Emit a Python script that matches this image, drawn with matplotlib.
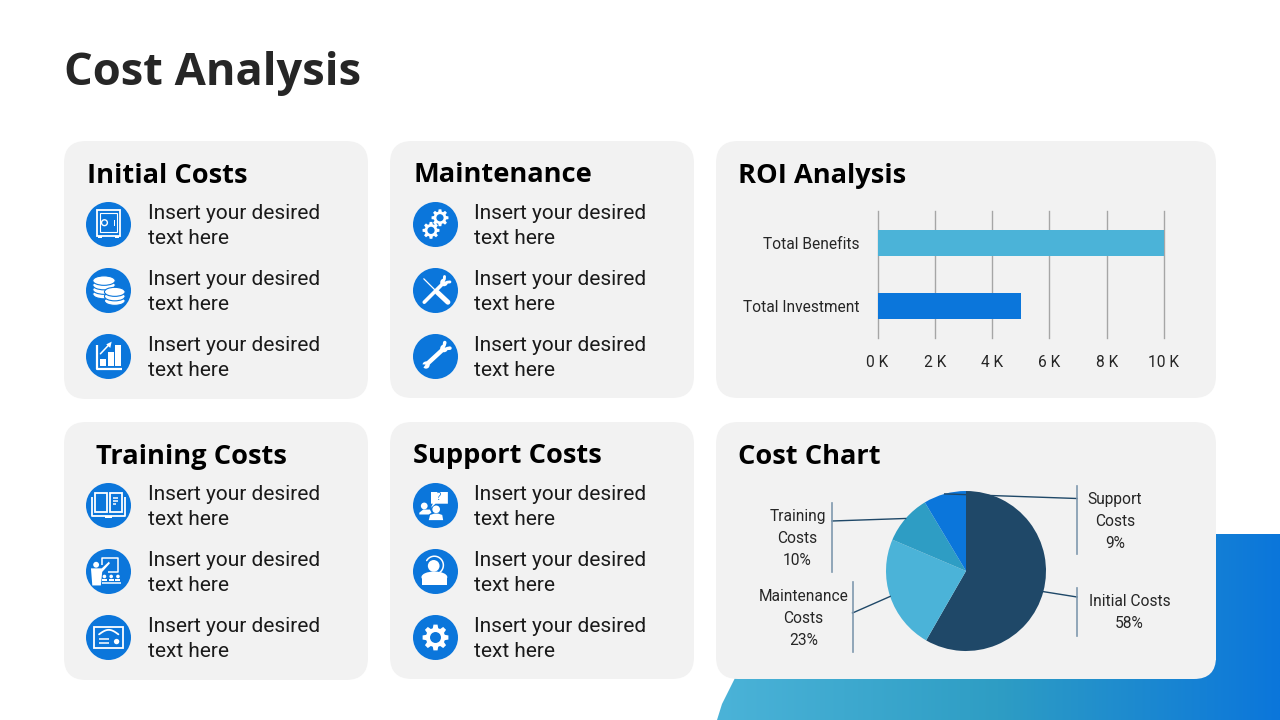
import numpy as np
import matplotlib
matplotlib.use("Agg")
import matplotlib.pyplot as plt
from matplotlib.patches import FancyBboxPatch, Circle, Ellipse, Polygon, Rectangle

plt.rcParams['font.family'] = ['Open Sans', 'DejaVu Sans']
BODY_FONT = ['Roboto', 'DejaVu Sans']
HEAD_FONT = ['Open Sans', 'DejaVu Sans']

BLUE = '#0B76DB'
LIGHT = '#4BB3D8'
TEAL = '#2E9DC4'
NAVY = '#1F4868'
CARD = '#F2F2F2'

# data
roi_labels = ['Total Benefits', 'Total Investment']
roi_values = [10, 5]
roi_colors = [LIGHT, BLUE]
roi_ticks = [0, 2, 4, 6, 8, 10]

cost_labels = ['Initial Costs', 'Maintenance\nCosts', 'Training\nCosts', 'Support\nCosts']
cost_values = [58.3, 23.1, 10.0, 8.6]
cost_colors = [NAVY, LIGHT, TEAL, BLUE]

body_text = 'Insert your desired\ntext here'

fig = plt.figure(figsize=(12.8, 7.2), dpi=100, facecolor='white')


def px_axes(left, top, w, h, zorder=1):
    ax = fig.add_axes([left / 1280, 1 - (top + h) / 720, w / 1280, h / 720], zorder=zorder)
    return ax


bg = px_axes(0, 0, 1280, 720)
bg.set_xlim(0, 1280)
bg.set_ylim(720, 0)
bg.axis('off')

# gradient shape at the bottom right
grad = np.linspace(0, 1, 256)[None, :, None]
c0, c1, c2 = [np.array(matplotlib.colors.to_rgb(c)) for c in (LIGHT, TEAL, BLUE)]
ramp = np.where(grad < 0.5, c0 + (c1 - c0) * grad * 2, c1 + (c2 - c1) * (grad - 0.5) * 2)
im = bg.imshow(ramp, extent=(717, 1280, 720, 534), aspect='auto', zorder=1)
verts = [(717, 720), (722, 704), (744, 660), (1216, 660), (1216, 534), (1280, 534), (1280, 720), (717, 720)]
clip = Polygon(verts, closed=True, transform=bg.transData, fc='none', ec='none')
bg.add_patch(clip)
im.set_clip_path(clip)
bg.set_xlim(0, 1280)
bg.set_ylim(720, 0)

# cards
for x0, y0, x1, y1 in [(64, 141, 368, 399), (390, 141, 694, 398), (716, 141, 1216, 398),
                       (64, 422, 368, 680), (390, 422, 694, 679), (716, 422, 1216, 679)]:
    bg.add_patch(FancyBboxPatch((x0, y0), x1 - x0, y1 - y0, boxstyle='round,pad=0,rounding_size=22',
                                fc=CARD, ec='none', zorder=2))

bg.text(64, 73, 'Cost Analysis', fontsize=32.6, fontweight='bold', family=HEAD_FONT, color='#262626',
        va='center', zorder=5)


# small drawing helpers, unit coordinates around the icon centre
class Icon:
    def __init__(self, cx, cy, r=22.5):
        self.cx, self.cy, self.r = cx, cy, r
        bg.add_patch(Circle((cx, cy), r, fc=BLUE, ec='none', zorder=3))

    def xy(self, x, y):
        return self.cx + x * self.r, self.cy + y * self.r

    def rect(self, x, y, w, h, fc='white', ec='none', lw=0, z=4):
        bg.add_patch(Rectangle(self.xy(x, y), w * self.r, h * self.r, fc=fc, ec=ec, lw=lw, zorder=z))

    def circ(self, x, y, r, fc='white', ec='none', lw=0, z=4):
        bg.add_patch(Circle(self.xy(x, y), r * self.r, fc=fc, ec=ec, lw=lw, zorder=z))

    def ell(self, x, y, w, h, fc='white', ec='none', lw=0, z=4):
        bg.add_patch(Ellipse(self.xy(x, y), w * self.r, h * self.r, fc=fc, ec=ec, lw=lw, zorder=z))

    def line(self, pts, lw=1.2, c='white', z=4, cap='round'):
        p = [self.xy(*q) for q in pts]
        bg.plot([q[0] for q in p], [q[1] for q in p], color=c, lw=lw, zorder=z, solid_capstyle=cap)

    def poly(self, pts, fc='white', z=4):
        bg.add_patch(Polygon([self.xy(*q) for q in pts], closed=True, fc=fc, ec='none', zorder=z))

    def gear(self, x, y, r, teeth=8, hole=0.42, z=4):
        pts = []
        step = 2 * np.pi / teeth
        for i in range(teeth):
            a = i * step
            pts += [(x + r * .74 * np.cos(a - step * .36), y + r * .74 * np.sin(a - step * .36)),
                    (x + r * np.cos(a - step * .2), y + r * np.sin(a - step * .2)),
                    (x + r * np.cos(a + step * .2), y + r * np.sin(a + step * .2)),
                    (x + r * .74 * np.cos(a + step * .36), y + r * .74 * np.sin(a + step * .36))]
        self.poly(pts, z=z)
        self.circ(x, y, r * hole, fc=BLUE, z=z + 1)


def icon_safe(ic):
    ic.rect(-.52, -.66, 1.04, 1.16, fc='none', ec='white', lw=1.3)
    ic.rect(-.38, -.5, .76, .84, fc='none', ec='white', lw=.8)
    ic.circ(-.18, -.08, .13, fc='none', ec='white', lw=1)
    ic.rect(.24, -.22, .07, .28)
    ic.rect(-.45, .5, .18, .08)
    ic.rect(.27, .5, .18, .08)


def icon_coins(ic):
    for y in [.16, -.04, -.24, -.44]:
        ic.ell(-.2, y, 1.0, .42, ec=BLUE, lw=.8)
    for y in [.46, .26, .06]:
        ic.ell(.28, y, .92, .4, ec=BLUE, lw=.8)


def icon_chart(ic):
    ic.line([(-.52, -.5), (-.52, .55), (.62, .55)], lw=1.6, cap='butt')
    ic.rect(-.38, .12, .26, .32)
    ic.rect(-.03, -.18, .26, .62)
    ic.rect(.3, -.52, .26, .96)
    ic.line([(-.36, -.12), (.02, -.52)], lw=1.1)
    ic.poly([(.14, -.66), (.08, -.38), (-.1, -.54)])


def icon_spanner(ic, a, b, w=2.6):
    # handle plus an open jaw at the b end
    ic.line([a, b], lw=w)
    dx, dy = b[0] - a[0], b[1] - a[1]
    n = np.hypot(dx, dy)
    ux, uy = dx / n, dy / n
    px, py = -uy, ux
    ic.circ(b[0], b[1], .17)
    for s in [1, -1]:
        ic.line([b, (b[0] + ux * .2 + s * px * .17, b[1] + uy * .2 + s * py * .17)], lw=w * .8)
    ic.poly([(b[0] + ux * .04, b[1] + uy * .04),
             (b[0] + ux * .3 + px * .1, b[1] + uy * .3 + py * .1),
             (b[0] + ux * .3 - px * .1, b[1] + uy * .3 - py * .1)], fc=BLUE, z=5)


def icon_gears(ic):
    ic.gear(.2, -.3, .38, hole=.42)
    ic.gear(-.2, .26, .38, hole=.42)


def icon_tools(ic):
    ic.line([(-.52, -.52), (.0, .0)], lw=.9)
    ic.line([(.08, .08), (.55, .52)], lw=3.6)
    icon_spanner(ic, (-.5, .52), (.38, -.36))


def icon_wrench(ic):
    icon_spanner(ic, (-.36, .32), (.38, -.36), w=3.2)
    ic.circ(-.42, .38, .16)
    ic.poly([(-.44, .36), (-.7, .34), (-.62, .6)], fc=BLUE, z=5)


def icon_book(ic):
    ic.rect(-.58, -.55, .52, .82, fc='none', ec='white', lw=1.3)
    ic.rect(.06, -.55, .52, .82, fc='none', ec='white', lw=1.3)
    ic.line([(-.74, -.38), (-.74, .46), (.74, .46), (.74, -.38)], lw=1.3, cap='butt')
    ic.line([(.2, -.33), (.42, -.33)], lw=1.1, cap='butt')
    ic.line([(.2, -.2), (.42, -.2)], lw=1.1, cap='butt')
    ic.line([(.2, -.07), (.34, -.07)], lw=1.1, cap='butt')
    ic.rect(-.15, .46, .3, .08)


def icon_teacher(ic):
    ic.line([(-.3, -.3), (-.3, -.6), (.42, -.6), (.42, .02), (-.02, .02)], lw=1.1, cap='butt')
    ic.circ(-.55, -.3, .13)
    ic.poly([(-.78, -.14), (-.3, -.14), (.02, -.44), (.06, -.36), (-.28, .02), (-.34, .62), (-.72, .62)])
    for x in [-.18, .12, .42]:
        ic.circ(x, .22, .08)
        ic.rect(x - .11, .32, .22, .12)
    ic.line([(-.3, .52), (.56, .52)], lw=1.1, cap='butt')


def icon_certificate(ic):
    ic.rect(-.66, -.46, 1.32, .94, fc='none', ec='white', lw=1.3)
    t = np.linspace(0, 1, 20)
    ic.line(list(zip(-.42 + .86 * t, -.14 - .2 * np.sin(np.pi * t))), lw=1.3)
    ic.line([(-.44, .08), (.02, .08)], lw=1.1, cap='butt')
    ic.line([(-.44, .26), (.02, .26)], lw=1.1, cap='butt')
    ic.circ(.36, .18, .12)


def icon_helpdesk(ic):
    ic.poly([(-.2, -.6), (.55, -.6), (.55, -.08), (0, -.08), (-.2, .1), (-.12, -.08), (-.2, -.08)])
    bg.text(*ic.xy(.17, -.34), '?', color=BLUE, fontsize=7, ha='center', va='center', zorder=5)
    ic.circ(-.5, .02, .15)
    ic.poly([(-.72, .32), (-.55, .18), (-.25, .18), (-.18, .32), (-.3, .4), (-.72, .4)])
    ic.circ(.03, .17, .17)
    ic.poly([(-.3, .65), (-.24, .42), (-.05, .36), (.12, .36), (.3, .42), (.34, .65)])


def icon_agent(ic):
    ic.circ(-.08, -.25, .26)
    t = np.linspace(-2.6, 1.0, 24)
    ic.line(list(zip(-.05 + .4 * np.cos(t), -.28 + .4 * np.sin(t))), lw=1.1)
    ic.rect(-.62, .2, 1.15, .4)
    ic.ell(-.05, .25, 1.15, .5)


def icon_gear(ic):
    ic.gear(0, 0, .58, hole=.42)


icon_sets = [
    (108.5, [224.5, 290.5, 356.5], [icon_safe, icon_coins, icon_chart]),
    (435.5, [224.5, 290.5, 356.5], [icon_gears, icon_tools, icon_wrench]),
    (108.5, [505.5, 571.5, 637.5], [icon_book, icon_teacher, icon_certificate]),
    (435.5, [505.5, 571.5, 637.5], [icon_helpdesk, icon_agent, icon_gear]),
]
for cx, ys, funcs in icon_sets:
    for cy, f in zip(ys, funcs):
        f(Icon(cx, cy))
        bg.text(148.5 if cx < 300 else 474.5, cy + 1.5, body_text, fontsize=15, family=BODY_FONT, color='#1A1A1A',
                va='center', linespacing=1.44, zorder=5)

# card headings
for x, y, t in [(87, 176, 'Initial Costs'), (413, 175, 'Maintenance'), (738, 176, 'ROI Analysis'),
                (95.5, 457, 'Training Costs'), (413, 456, 'Support Costs'), (738, 457, 'Cost Chart')]:
    bg.text(x, y, t, fontsize=19.6, fontweight='bold', family=HEAD_FONT, color='black', va='center', zorder=5)

# ROI bar chart
ax = px_axes(877.5, 211, 286.5, 127, zorder=2)
ax.patch.set_alpha(0)
y_pos = np.arange(len(roi_labels))
ax.barh(y_pos, roi_values, height=0.41, color=roi_colors, zorder=3)
ax.set_xlim(0, 10)
ax.set_ylim(1.5, -0.5)
ax.set_xticks(roi_ticks)
ax.set_xticklabels([f'{t} K' for t in roi_ticks], fontsize=11.2, family=BODY_FONT, color='#262626')
ax.set_yticks(y_pos)
ax.set_yticklabels(roi_labels, fontsize=11.2, family=BODY_FONT, color='#262626')
ax.tick_params(length=0)
ax.tick_params(axis='x', pad=12)
ax.tick_params(axis='y', pad=13)
ax.grid(axis='x', color='#A6A6A6', lw=1, zorder=1, clip_on=False)
for s in ax.spines.values():
    s.set_visible(False)

# cost pie chart
cx, cy, rad = 966, 571, 80
pie_ax = px_axes(cx - rad, cy - rad, 2 * rad, 2 * rad, zorder=2)
pie_ax.pie(cost_values, colors=cost_colors, startangle=90, counterclock=False, radius=1,
           wedgeprops={'linewidth': 0})
pie_ax.set_xlim(-1, 1)
pie_ax.set_ylim(-1, 1)

# leader lines and labels go above the pie
top = px_axes(0, 0, 1280, 720, zorder=3)
top.set_xlim(0, 1280)
top.set_ylim(720, 0)
top.axis('off')
top.patch.set_alpha(0)

bar_x = [1077, 852.5, 832, 1077]
bar_y = [(588, 636), (582, 652), (503, 572), (486, 554)]
join_y = [597, 613, 521, 498.5]
label_xy = [(1129.5, 612.5), (803.5, 618.5), (797.5, 538.5), (1115, 521.5)]
angle = 90.0
for i, v in enumerate(cost_values):
    mid = np.radians(angle - v * 3.6 / 2)
    angle -= v * 3.6
    sx, sy = cx + rad * np.cos(mid), cy - rad * np.sin(mid)
    top.plot([sx, bar_x[i]], [sy, join_y[i]], color=NAVY, lw=1)
    top.plot([bar_x[i], bar_x[i]], bar_y[i], color='#7F98AE', lw=1.2)
    top.text(*label_xy[i], f'{cost_labels[i]}\n{v:.0f}%', fontsize=11.2, family=BODY_FONT, color='#262626',
             ha='center', va='center', linespacing=1.62)

fig.savefig('out.png', dpi=100, facecolor='white')
